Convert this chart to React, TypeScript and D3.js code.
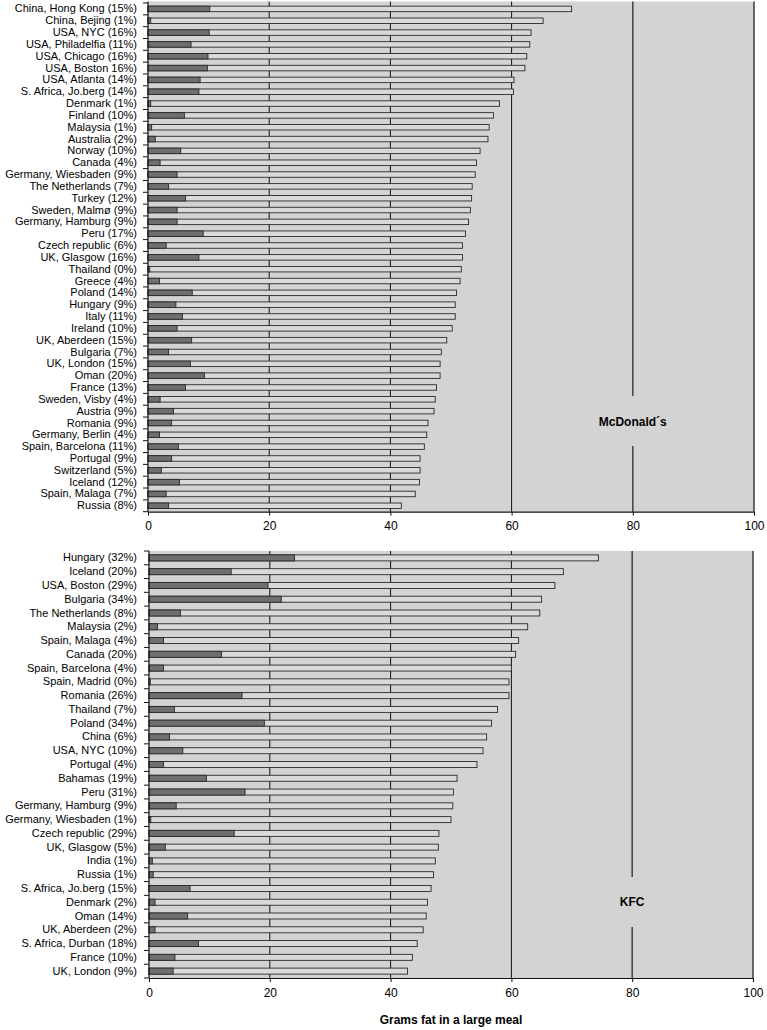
import React, { useEffect, useRef } from 'react';
import * as d3 from 'd3';

// McDonald's: country labels, total fat (g) and trans fat part (g)
const mcLabels = [
  'China, Hong Kong (15%)', 'China, Bejing (1%)', 'USA, NYC (16%)', 'USA, Philadelfia (11%)',
  'USA, Chicago (16%)', 'USA, Boston 16%)', 'USA, Atlanta (14%)', 'S. Africa, Jo.berg (14%)',
  'Denmark (1%)', 'Finland (10%)', 'Malaysia (1%)', 'Australia (2%)', 'Norway (10%)',
  'Canada (4%)', 'Germany, Wiesbaden (9%)', 'The Netherlands (7%)', 'Turkey (12%)',
  'Sweden, Malmø (9%)', 'Germany, Hamburg (9%)', 'Peru (17%)', 'Czech republic (6%)',
  'UK, Glasgow (16%)', 'Thailand (0%)', 'Greece (4%)', 'Poland (14%)', 'Hungary (9%)',
  'Italy (11%)', 'Ireland (10%)', 'UK, Aberdeen (15%)', 'Bulgaria (7%)', 'UK, London (15%)',
  'Oman (20%)', 'France (13%)', 'Sweden, Visby (4%)', 'Austria (9%)', 'Romania (9%)',
  'Germany, Berlin (4%)', 'Spain, Barcelona (11%)', 'Portugal (9%)', 'Switzerland (5%)',
  'Iceland (12%)', 'Spain, Malaga (7%)', 'Russia (8%)'
];
const mcTotal = [
  69.9, 65.2, 63.2, 63.0, 62.5, 62.2, 60.4, 60.3, 58.0, 57.0, 56.3, 56.1, 54.8, 54.2, 54.0,
  53.5, 53.4, 53.2, 52.9, 52.4, 51.9, 51.9, 51.7, 51.5, 50.9, 50.7, 50.7, 50.2, 49.3, 48.4,
  48.2, 48.2, 47.6, 47.4, 47.2, 46.2, 46.0, 45.6, 44.9, 44.9, 44.8, 44.1, 41.8
];
const mcTrans = [
  10.2, 0.45, 10.1, 7.1, 9.9, 9.8, 8.6, 8.4, 0.45, 6.0, 0.6, 1.2, 5.4, 2.0, 4.8, 3.4, 6.2,
  4.8, 4.8, 9.1, 3.0, 8.4, 0.3, 1.9, 7.3, 4.6, 5.7, 4.8, 7.2, 3.4, 7.0, 9.3, 6.2, 2.0, 4.2,
  3.9, 1.9, 5.0, 3.9, 2.2, 5.2, 3.0, 3.4
];

// KFC
const kfcLabels = [
  'Hungary (32%)', 'Iceland (20%)', 'USA, Boston (29%)', 'Bulgaria (34%)', 'The Netherlands (8%)',
  'Malaysia (2%)', 'Spain, Malaga (4%)', 'Canada (20%)', 'Spain, Barcelona (4%)',
  'Spain, Madrid (0%)', 'Romania (26%)', 'Thailand (7%)', 'Poland (34%)', 'China (6%)',
  'USA, NYC (10%)', 'Portugal (4%)', 'Bahamas (19%)', 'Peru (31%)', 'Germany, Hamburg (9%)',
  'Germany, Wiesbaden (1%)', 'Czech republic (29%)', 'UK, Glasgow (5%)', 'India (1%)',
  'Russia (1%)', 'S. Africa, Jo.berg (15%)', 'Denmark (2%)', 'Oman (14%)', 'UK, Aberdeen (2%)',
  'S. Africa, Durban (18%)', 'France (10%)', 'UK, London (9%)'
];
const kfcTotal = [
  74.4, 68.6, 67.2, 65.0, 64.7, 62.7, 61.2, 60.7, 60.0, 59.6, 59.6, 57.7, 56.7, 55.9, 55.3,
  54.3, 51.0, 50.4, 50.3, 50.0, 48.0, 47.9, 47.4, 47.1, 46.7, 46.1, 45.9, 45.4, 44.4, 43.6, 42.8
];
const kfcTrans = [
  24.1, 13.6, 19.7, 21.9, 5.2, 1.4, 2.4, 12.0, 2.4, 0.2, 15.4, 4.2, 19.1, 3.4, 5.6, 2.4, 9.5,
  15.9, 4.5, 0.3, 14.1, 2.7, 0.55, 0.7, 6.8, 1.0, 6.4, 1.0, 8.2, 4.3, 4.0
];

const xTicks = [0, 20, 40, 60, 80, 100];
const gridValues = [20, 40, 60];
const xTitle = 'Grams fat in a large meal';

const FONT = '"Liberation Sans", Arial, Helvetica, sans-serif';

interface PanelSpec {
  labels: string[];
  total: number[];
  trans: number[];
  name: string;
  left: number;
  right: number;
  plotTop: number;
  bandTop: number;
  bottom: number;
  barH: number;
  labelPad: number;
  gap: [number, number];
  nameY: number;
}

const panels: PanelSpec[] = [
  {
    labels: mcLabels, total: mcTotal, trans: mcTrans, name: 'McDonald´s',
    left: 148, right: 754, plotTop: 1.5, bandTop: 3, bottom: 511.7, barH: 5.5,
    labelPad: 11, gap: [396, 446], nameY: 422
  },
  {
    labels: kfcLabels, total: kfcTotal, trans: kfcTrans, name: 'KFC',
    left: 149, right: 753, plotTop: 551, bandTop: 551, bottom: 978, barH: 6,
    labelPad: 12, gap: [877, 927], nameY: 902
  }
];

function drawPanel(svg: d3.Selection<SVGSVGElement, unknown, null, undefined>, p: PanelSpec) {
  const x = d3.scaleLinear().domain([0, 100]).range([p.left, p.right]);
  const y = d3.scaleBand<string>().domain(p.labels).range([p.bandTop, p.bottom]);
  const g = svg.append('g');

  // plot background
  g.append('rect')
    .attr('x', p.left).attr('y', p.plotTop)
    .attr('width', p.right - p.left).attr('height', p.bottom - p.plotTop)
    .attr('fill', '#d3d3d3');

  // gridlines
  g.selectAll('.grid')
    .data(gridValues)
    .enter()
    .append('line')
    .attr('x1', d => x(d)).attr('x2', d => x(d))
    .attr('y1', p.plotTop).attr('y2', p.bottom)
    .attr('stroke', '#111').attr('stroke-width', 1);

  // 80 line, broken around the panel name
  [[p.plotTop, p.gap[0]], [p.gap[1], p.bottom]].forEach(([a, b]) => {
    g.append('line')
      .attr('x1', x(80)).attr('x2', x(80)).attr('y1', a).attr('y2', b)
      .attr('stroke', '#4a4a4a').attr('stroke-width', 1.6);
  });
  g.append('text')
    .attr('x', x(80)).attr('y', p.nameY).attr('dy', '0.35em')
    .attr('text-anchor', 'middle')
    .style('font-family', FONT).style('font-size', '12px').style('font-weight', 'bold')
    .text(p.name);

  // right border
  g.append('line')
    .attr('x1', p.right).attr('x2', p.right).attr('y1', p.plotTop).attr('y2', p.bottom)
    .attr('stroke', '#111').attr('stroke-width', 1.2);

  const rows = p.labels.map((l, i) => ({ l, total: p.total[i], trans: p.trans[i] }));
  const off = (y.bandwidth() - p.barH) / 2;

  // total bars (light)
  g.selectAll('.tot')
    .data(rows)
    .enter()
    .append('rect')
    .attr('x', x(0))
    .attr('y', d => (y(d.l) || 0) + off)
    .attr('width', d => x(d.total) - x(0))
    .attr('height', p.barH)
    .attr('fill', '#d9d9d9')
    .attr('stroke', '#2a2a2a')
    .attr('stroke-width', 0.9);

  // trans fat part (dark)
  g.selectAll('.trans')
    .data(rows)
    .enter()
    .append('rect')
    .attr('x', x(0))
    .attr('y', d => (y(d.l) || 0) + off)
    .attr('width', d => x(d.trans) - x(0))
    .attr('height', p.barH)
    .attr('fill', '#6f6f6f')
    .attr('stroke', '#2a2a2a')
    .attr('stroke-width', 0.9);

  // category labels
  g.append('g')
    .attr('transform', `translate(${p.left},0)`)
    .call(d3.axisLeft(y).tickSize(0).tickPadding(p.labelPad))
    .call(a => a.select('.domain').remove())
    .selectAll('text')
    .style('font-family', FONT).style('font-size', '11px').attr('fill', '#000');

  // ticks between categories
  const bounds = d3.range(p.labels.length + 1).map(i => p.bandTop + i * y.step());
  g.selectAll('.ytick')
    .data(bounds)
    .enter()
    .append('line')
    .attr('x1', p.left - 5).attr('x2', p.left)
    .attr('y1', d => d).attr('y2', d => d)
    .attr('stroke', '#111').attr('stroke-width', 1);

  // left axis line
  g.append('line')
    .attr('x1', p.left).attr('x2', p.left).attr('y1', p.plotTop).attr('y2', p.bottom)
    .attr('stroke', '#111').attr('stroke-width', 1.2);

  // x axis
  const xa = g.append('g')
    .attr('transform', `translate(0,${p.bottom})`)
    .call(d3.axisBottom(x).tickValues(xTicks).tickSize(4).tickPadding(6).tickSizeOuter(0));
  xa.select('.domain').attr('stroke', '#111').attr('stroke-width', 1.2);
  xa.selectAll('line').attr('stroke', '#111');
  xa.selectAll('text')
    .style('font-family', FONT).style('font-size', '12px').attr('fill', '#000');
}

export default function App() {
  const svgRef = useRef<SVGSVGElement>(null);

  useEffect(() => {
    if (!svgRef.current) return;
    const svg = d3.select(svgRef.current);
    svg.selectAll('*').remove();

    panels.forEach(p => drawPanel(svg, p));

    svg.append('text')
      .attr('x', (panels[1].left + panels[1].right) / 2)
      .attr('y', 1020).attr('dy', '0.35em')
      .attr('text-anchor', 'middle')
      .style('font-family', FONT).style('font-size', '12px').style('font-weight', 'bold')
      .text(xTitle);
  }, []);

  return (
    <svg
      ref={svgRef}
      width={767}
      height={1030}
      style={{ position: 'absolute', left: 0, top: 0, background: '#fff' }}
    />
  );
}
